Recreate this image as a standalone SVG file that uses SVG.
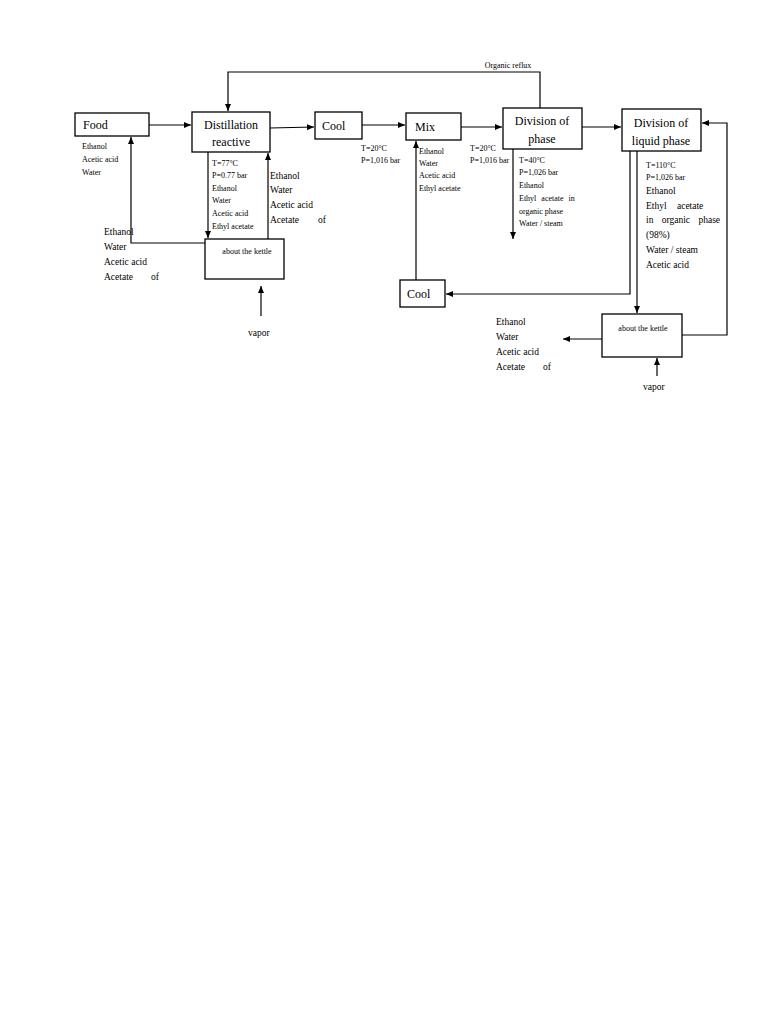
<svg xmlns="http://www.w3.org/2000/svg" width="768" height="1024" viewBox="0 0 768 1024">
<style>
.box{fill:#fff;stroke:#000;stroke-width:1.3}
.t{font-family:"Liberation Serif",serif;fill:#000}
.big{font-size:12px}
.mid{font-size:9.5px}
.sm{font-size:8px}
.ln{fill:none;stroke:#000;stroke-width:1.2}
</style>
<defs>
<marker id="ah" markerWidth="8" markerHeight="8" refX="7" refY="4" orient="auto" markerUnits="userSpaceOnUse">
<path d="M0,1 L7,4 L0,7 Z" fill="#000"/>
</marker>
</defs>
<rect width="768" height="1024" fill="#fff"/>
<g id="connectors">
<polyline class="ln" points="540,108 540,72 228,72 228,111" marker-end="url(#ah)"/>
<line class="ln" x1="149" y1="125" x2="191" y2="125" marker-end="url(#ah)"/>
<line class="ln" x1="270" y1="128" x2="314" y2="127" marker-end="url(#ah)"/>
<line class="ln" x1="362" y1="125" x2="405" y2="125" marker-end="url(#ah)"/>
<line class="ln" x1="461" y1="127" x2="502" y2="127" marker-end="url(#ah)"/>
<line class="ln" x1="582" y1="127" x2="621" y2="127" marker-end="url(#ah)"/>
<polyline class="ln" points="205,243 131,243 131,137" marker-end="url(#ah)"/>
<line class="ln" x1="208" y1="152" x2="208" y2="238" marker-end="url(#ah)"/>
<line class="ln" x1="268" y1="239" x2="268" y2="153" marker-end="url(#ah)"/>
<line class="ln" x1="261" y1="316" x2="261" y2="286" marker-end="url(#ah)"/>
<line class="ln" x1="416" y1="280" x2="416" y2="141" marker-end="url(#ah)"/>
<line class="ln" x1="513" y1="149" x2="513" y2="239" marker-end="url(#ah)"/>
<polyline class="ln" points="630,151 630,294 446,294" marker-end="url(#ah)"/>
<line class="ln" x1="637" y1="151" x2="637" y2="313" marker-end="url(#ah)"/>
<polyline class="ln" points="682,335 727,335 727,123 702,123" marker-end="url(#ah)"/>
<line class="ln" x1="602" y1="339" x2="563" y2="339" marker-end="url(#ah)"/>
<line class="ln" x1="657" y1="376" x2="657" y2="358" marker-end="url(#ah)"/>
</g>
<g id="food">
<rect class="box" x="75" y="113" width="74" height="23"/>
<text class="t big" x="83" y="129">Food</text>
</g>
<g id="distillation">
<rect class="box" x="192" y="112" width="78" height="40"/>
<text class="t big" x="231" y="129" text-anchor="middle">Distillation</text>
<text class="t big" x="231" y="146" text-anchor="middle">reactive</text>
</g>
<g id="cool1">
<rect class="box" x="315" y="112" width="47" height="27"/>
<text class="t big" x="322" y="130">Cool</text>
</g>
<g id="mix">
<rect class="box" x="406" y="113" width="55" height="27"/>
<text class="t big" x="415" y="131">Mix</text>
</g>
<g id="division-phase">
<rect class="box" x="503" y="108" width="79" height="41"/>
<text class="t big" x="542" y="125" text-anchor="middle">Division of</text>
<text class="t big" x="542" y="143" text-anchor="middle">phase</text>
</g>
<g id="division-liquid">
<rect class="box" x="622" y="109" width="79" height="42"/>
<text class="t big" x="661" y="127" text-anchor="middle">Division of</text>
<text class="t big" x="661" y="145" text-anchor="middle">liquid phase</text>
</g>
<g id="kettle1">
<rect class="box" x="205" y="239" width="79" height="40"/>
<text class="t sm" x="247" y="254" text-anchor="middle">about the kettle</text>
</g>
<g id="cool2">
<rect class="box" x="400" y="280" width="45" height="27"/>
<text class="t big" x="407" y="298">Cool</text>
</g>
<g id="kettle2">
<rect class="box" x="602" y="314" width="80" height="43"/>
<text class="t sm" x="643" y="331" text-anchor="middle">about the kettle</text>
</g>
<g id="labels">
<text class="t sm" x="508" y="68" text-anchor="middle">Organic reflux</text>
<text class="t sm" x="82" y="149">Ethanol</text>
<text class="t sm" x="82" y="162">Acetic acid</text>
<text class="t sm" x="82" y="175">Water</text>
<text class="t sm" x="212" y="166">T=77°C</text>
<text class="t sm" x="212" y="178">P=0.77 bar</text>
<text class="t sm" x="212" y="191">Ethanol</text>
<text class="t sm" x="212" y="203">Water</text>
<text class="t sm" x="212" y="216">Acetic acid</text>
<text class="t sm" x="212" y="229">Ethyl acetate</text>
<text class="t mid" x="270" y="179">Ethanol</text>
<text class="t mid" x="270" y="193">Water</text>
<text class="t mid" x="270" y="208">Acetic acid</text>
<text class="t mid" x="270" y="223">Acetate</text>
<text class="t mid" x="318" y="223">of</text>
<text class="t mid" x="104" y="235">Ethanol</text>
<text class="t mid" x="104" y="250">Water</text>
<text class="t mid" x="104" y="265">Acetic acid</text>
<text class="t mid" x="104" y="280">Acetate</text>
<text class="t mid" x="151" y="280">of</text>
<text class="t mid" x="248" y="336">vapor</text>
<text class="t sm" x="361" y="151">T=20°C</text>
<text class="t sm" x="361" y="163">P=1,016 bar</text>
<text class="t sm" x="419" y="154">Ethanol</text>
<text class="t sm" x="419" y="166">Water</text>
<text class="t sm" x="419" y="178">Acetic acid</text>
<text class="t sm" x="419" y="191">Ethyl acetate</text>
<text class="t sm" x="470" y="151">T=20°C</text>
<text class="t sm" x="470" y="163">P=1,016 bar</text>
<text class="t sm" x="519" y="163">T=40°C</text>
<text class="t sm" x="519" y="175">P=1,026 bar</text>
<text class="t sm" x="519" y="188">Ethanol</text>
<text class="t sm" x="519" y="201" word-spacing="3">Ethyl acetate in</text>
<text class="t sm" x="519" y="214">organic phase</text>
<text class="t sm" x="519" y="226">Water / steam</text>
<text class="t sm" x="646" y="168">T=110°C</text>
<text class="t sm" x="646" y="180">P=1,026 bar</text>
<text class="t mid" x="646" y="194">Ethanol</text>
<text class="t mid" x="646" y="209" word-spacing="8">Ethyl acetate</text>
<text class="t mid" x="646" y="223" word-spacing="6">in organic phase</text>
<text class="t mid" x="646" y="238">(98%)</text>
<text class="t mid" x="646" y="253">Water / steam</text>
<text class="t mid" x="646" y="268">Acetic acid</text>
<text class="t mid" x="496" y="325">Ethanol</text>
<text class="t mid" x="496" y="340">Water</text>
<text class="t mid" x="496" y="355">Acetic acid</text>
<text class="t mid" x="496" y="370">Acetate</text>
<text class="t mid" x="543" y="370">of</text>
<text class="t mid" x="643" y="390">vapor</text>
</g>
</svg>
